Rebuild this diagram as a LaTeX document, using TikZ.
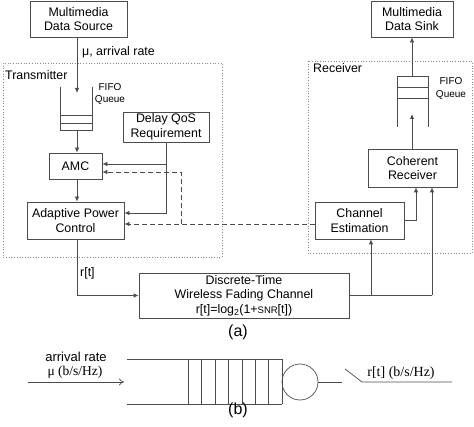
\documentclass[tikz,border=0pt]{standalone}
\usepackage{fontspec}
\setmainfont{Liberation Sans}
\newfontfamily\serifb{Liberation Serif}
\usetikzlibrary{arrows.meta}
\definecolor{lc}{gray}{0.3}
\begin{document}
\begin{tikzpicture}[x=1pt,y=-1pt,
  ln/.style={draw=lc, line width=0.8pt},
  box/.style={draw=lc, line width=0.8pt, fill=white, align=center, inner sep=0pt, font=\fontsize{12.4}{14.5}\selectfont},
  arr/.style={ln, -{Latex[length=5pt,width=4.5pt]}},
  region/.style={draw=black!45, dotted, line width=0.7pt},
  lab/.style={font=\fontsize{12.4}{14.5}\selectfont, inner sep=0pt},
  small/.style={font=\fontsize{10}{12.5}\selectfont, inner sep=0pt, align=center}
]
\useasboundingbox (0,0) rectangle (474,427);
% regions
\draw[region] (3,63) rectangle (222,257);
\draw[region] (308,61) rectangle (472,253);
\node[lab, anchor=west] (txl) at (5,75) {Transmitter};
\node[lab, anchor=west] (rxl) at (313,68) {Receiver};
% boxes
\node[box, minimum width=97pt, minimum height=36pt] (src) at (78.5,19) {Multimedia\\Data Source};
\node[box, minimum width=82pt, minimum height=36pt] (snk) at (412,19) {Multimedia\\Data Sink};
\node[box, minimum width=86pt, minimum height=30pt] (qos) at (166,127) {Delay QoS\\Requirement};
\node[box, minimum width=53pt, minimum height=26pt] (amc) at (75.5,166) {AMC};
\node[box, minimum width=97pt, minimum height=37pt] (apc) at (75.5,220.5) {Adaptive Power\\Control};
\node[box, minimum width=89pt, minimum height=38pt] (cr) at (412.5,168) {Coherent\\Receiver};
\node[box, minimum width=89pt, minimum height=37pt] (ce) at (359.5,220.5) {Channel\\Estimation};
\node[box, minimum width=210pt, minimum height=45pt] (ch) at (244,295.5) {Discrete-Time\\Wireless Fading Channel\\r[t]=log\textsubscript{2}(1+{\fontsize{9.5}{10}\selectfont SNR}[t])};
% labels
\node[lab, anchor=west] (mu) at (82,52) {μ, arrival rate};
\node[small] (tq) at (110,94) {FIFO\\Queue};
\node[small] (rqq) at (451,88.5) {FIFO\\Queue};
\node[lab, anchor=west] (rt) at (80,273) {r[t]};
\node[font=\fontsize{16}{18}\selectfont, inner sep=0pt] (pa) at (238,332) {(a)};
% tx queue
\coordinate (qin) at (77,93);
\draw[arr] (qin |- src.south) -- (qin);
\draw[ln] (60,87) -- (60,130) -- (92,130) -- (92,87);
\draw[ln] (60,115) -- (92,115) (60,123) -- (92,123);
\coordinate (qout) at (77,130);
\draw[arr] (qout) -- (qout |- amc.north);
\draw[arr] (amc.south -| qout) -- (apc.north -| qout);
% QoS
\coordinate (j1) at (166,164);
\coordinate (j2) at (166,213);
\draw[arr] (qos.south) -- (j2) -- (j2 -| apc.east);
\draw[arr] (j1) -- (j1 -| amc.east);
% dashed feedback
\coordinate (d1) at (181,224);
\coordinate (d2) at (181,172);
\draw[arr, dash pattern=on 5pt off 3pt] (d1 -| ce.west) -- (d1 -| apc.east);
\draw[arr, dash pattern=on 5pt off 3pt] (d1) -- (d2) -- (d2 -| amc.east);
% to channel
\draw[arr] (apc.south -| qout) |- (ch.west);
\coordinate (b1) at (371,295.5);
\coordinate (b2) at (432,295.5);
\draw[ln] (ch.east) -- (b2);
\draw[arr] (b1) -- (b1 |- ce.south);
\draw[arr] (b2) -- (b2 |- cr.south);
\coordinate (e1) at (416,220);
\draw[arr] (e1 -| ce.east) -- (e1) -- (e1 |- cr.south);
% rx queue
\coordinate (rq) at (412,114);
\draw[arr] (rq |- cr.north) -- (rq);
\draw[ln] (397,127) -- (397,76) -- (428,76) -- (428,127);
\draw[ln] (397,87) -- (428,87) (397,98) -- (428,98);
\coordinate (rqt) at (412,76);
\draw[arr] (rqt) -- (rqt |- snk.south);
% part (b)
\node[font=\fontsize{13}{15}\selectfont, inner sep=0pt] (ar) at (76,357) {arrival rate};
\node[font=\fontsize{13.5}{15}\selectfont\serifb, inner sep=0pt] (mub) at (75,372) {μ (b/s/Hz)};
\coordinate (a0) at (28,382);
\coordinate (a1) at (124,382);
\draw[draw=lc, line width=0.7pt, -{To[length=5pt,width=7pt]}] (a0) -- (a1);
\draw[draw=lc, line width=0.7pt] (127,359) -- (282,359) (127,404) -- (282,404);
\foreach \x in {188,201.5,215,228.5,242,255,268.5,282} \draw[draw=lc, line width=0.7pt] (\x,359) -- (\x,404);
\node[circle, draw=lc, line width=0.7pt, minimum size=36pt, inner sep=0pt] (srv) at (300,382) {};
\coordinate (s0) at (342,382);
\draw[draw=lc, line width=0.7pt] (srv.east) -- (s0);
\coordinate (s1) at (345,369);
\coordinate (s2) at (362,382);
\coordinate (s3) at (452,382);
\draw[draw=lc, line width=0.7pt] (s1) -- (s2) -- (s3);
\node[font=\fontsize{14}{16}\selectfont\serifb, inner sep=0pt] (rtb) at (401,373) {r[t] (b/s/Hz)};
\node[font=\fontsize{16}{18}\selectfont, inner sep=0pt] (pb) at (238,410) {(b)};
\end{tikzpicture}
\end{document}
